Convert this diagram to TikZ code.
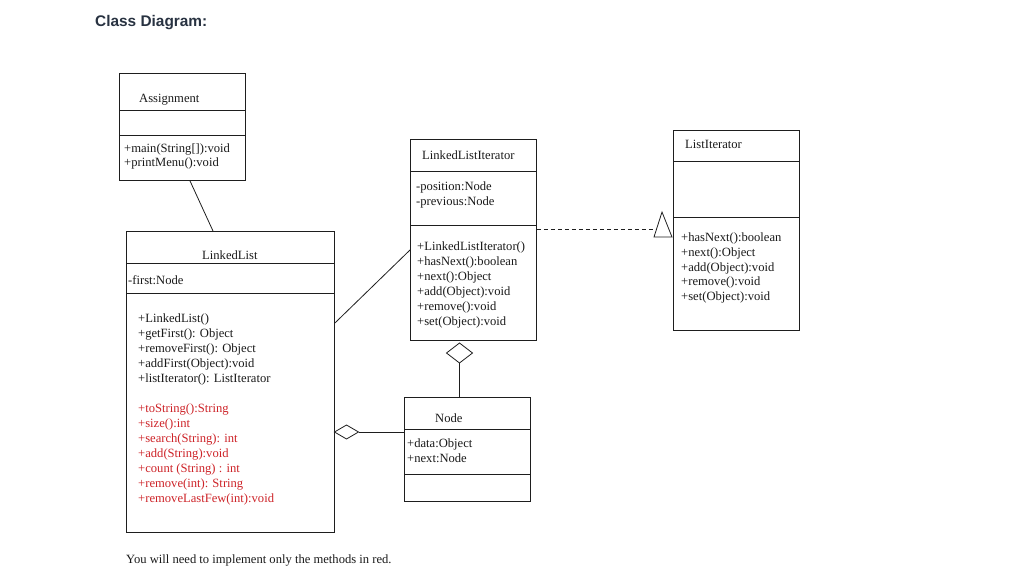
\documentclass[tikz,border=0pt]{standalone}
\usepackage{fontspec}
\setmainfont{Liberation Serif}
\newfontfamily\titlefont{Liberation Sans}
\usetikzlibrary{calc}
\definecolor{titlecol}{RGB}{40,50,65}
\definecolor{redtxt}{RGB}{205,35,40}
\definecolor{linecol}{RGB}{30,30,30}
\begin{document}
\begin{tikzpicture}[x=1pt,y=-1pt,
  box/.style={draw=linecol, line width=0.9pt, inner sep=0, anchor=north west},
  sep/.style={draw=linecol, line width=0.9pt},
  conn/.style={draw=linecol, line width=0.8pt},
  txt/.style={inner sep=0, anchor=base west, font=\fontsize{12.6}{14}\selectfont, text=black!90},
  rtxt/.style={txt, text=redtxt},
  diam/.style={draw=linecol, line width=0.8pt, fill=white}]
\useasboundingbox (0,0) rectangle (1024,583);
\node[inner sep=0, anchor=base west, font=\titlefont\bfseries\fontsize{15.4}{18}\selectfont, text=titlecol] (title) at (95,27) {Class Diagram:};

% Assignment
\node[box, minimum width=126pt, minimum height=107pt] (asg) at (119,73) {};
\draw[sep] (119,110) -- (245,110);
\draw[sep] (119,135) -- (245,135);
\node[txt] (asgT) at (139,102.5) {Assignment};
\node[txt] (asg1) at (124,152.5) {+main(String[]):void};
\node[txt] (asg2) at (124,166.5) {+printMenu():void};

% LinkedList
\node[box, minimum width=208pt, minimum height=301pt] (ll) at (126,231) {};
\draw[sep] (126,263) -- (334,263);
\draw[sep] (126,293) -- (334,293);
\node[txt] (llT) at (202,259.5) {LinkedList};
\node[txt] (llA) at (128,284.5) {-first:Node};
\foreach \t [count=\i from 0] in {+LinkedList(),+getFirst(): Object,+removeFirst(): Object,+addFirst(Object):void,+listIterator(): ListIterator}
  \node[txt] (llm\i) at (138,322.5+15*\i) {\t};
\foreach \t [count=\i from 0] in {+toString():String,+size():int,+search(String): int,+add(String):void,+count (String) : int,+remove(int): String,+removeLastFew(int):void}
  \node[rtxt] (llr\i) at (138,412.5+15*\i) {\t};

% LinkedListIterator
\node[box, minimum width=126pt, minimum height=201pt] (lli) at (410,139) {};
\draw[sep] (410,171) -- (536,171);
\draw[sep] (410,225) -- (536,225);
\node[txt] (lliT) at (422,159.5) {LinkedListIterator};
\node[txt] (lliA1) at (416,190.5) {-position:Node};
\node[txt] (lliA2) at (416,205.5) {-previous:Node};
\foreach \t [count=\i from 0] in {+LinkedListIterator(),+hasNext():boolean,+next():Object,+add(Object):void,+remove():void,+set(Object):void}
  \node[txt] (llim\i) at (417,250.5+15*\i) {\t};

% ListIterator
\node[box, minimum width=126pt, minimum height=200pt] (li) at (673,130) {};
\draw[sep] (673,161) -- (799,161);
\draw[sep] (673,217) -- (799,217);
\node[txt] (liT) at (685,148.5) {ListIterator};
\foreach \t [count=\i from 0] in {+hasNext():boolean,+next():Object,+add(Object):void,+remove():void,+set(Object):void}
  \node[txt] (lim\i) at (681,241.5+14.8*\i) {\t};

% Node
\node[box, minimum width=126pt, minimum height=104pt] (nd) at (404,397) {};
\draw[sep] (404,429) -- (530,429);
\draw[sep] (404,474) -- (530,474);
\node[txt] (ndT) at (435,422.5) {Node};
\node[txt] (ndA1) at (407,447.5) {+data:Object};
\node[txt] (ndA2) at (407,462.5) {+next:Node};

% connectors
\coordinate (c1) at ($(asg.south west)+(71,0)$);
\coordinate (c2) at ($(ll.north west)+(87,0)$);
\draw[conn] (c1) -- (c2);
\coordinate (c3) at ($(ll.north east)+(0,92)$);
\coordinate (c4) at ($(lli.north west)+(0,111)$);
\draw[conn] (c3) -- (c4);
% realization (dashed) with triangle
\coordinate (d1) at ($(lli.north east)+(0,90)$);
\coordinate (t1) at (654,237);
\coordinate (t2) at (672,237);
\coordinate (t3) at (662,212);
\coordinate (d2) at (657,229);
\draw[conn, dashed, dash pattern=on 4pt off 3pt] (d1) -- (d2);
\draw[conn, fill=white] (t1) -- (t3) -- (t2) -- cycle;
% aggregation Node -> LinkedListIterator
\coordinate (a1) at (459.5,343);
\coordinate (a2) at (472.5,353);
\coordinate (a3) at (459.5,363);
\coordinate (a4) at (446.5,353);
\draw[diam] (a1) -- (a2) -- (a3) -- (a4) -- cycle;
\coordinate (a5) at ($(nd.north west)+(55.5,0)$);
\draw[conn] (a3) -- (a5);
% aggregation Node -> LinkedList
\coordinate (b1) at (334.5,432);
\coordinate (b2) at (346.5,425);
\coordinate (b3) at (358.5,432);
\coordinate (b4) at (346.5,439);
\draw[diam] (b1) -- (b2) -- (b3) -- (b4) -- cycle;
\coordinate (b5) at ($(nd.north west)+(0,35)$);
\draw[conn] (b3) -- (b5);

\node[txt, font=\fontsize{12.6}{14}\selectfont] (foot) at (126,563.5) {You will need to implement only the methods in red.};
\end{tikzpicture}
\end{document}
